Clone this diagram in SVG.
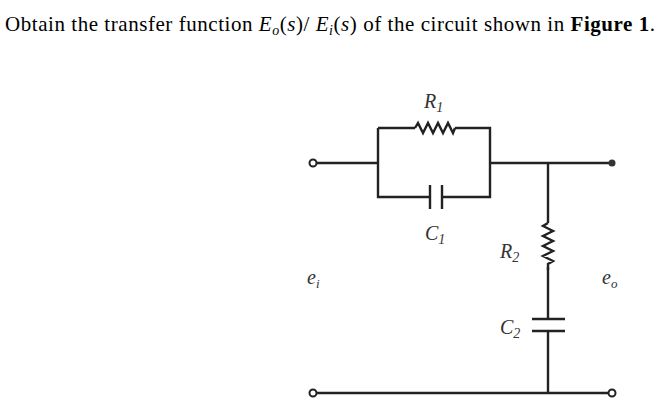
<svg xmlns="http://www.w3.org/2000/svg" width="668" height="409" viewBox="0 0 668 409">
<style>
.w{stroke:#222;stroke-width:2.4;fill:none}
.t{font-family:"Liberation Serif",serif;fill:#000}
.l{font-family:"Liberation Serif",serif;font-style:italic;fill:#333;font-size:20px}
</style>
<rect width="668" height="409" fill="#fff"/>
<text class="t" x="5" y="31" font-size="21" textLength="650" lengthAdjust="spacing">Obtain the transfer function <tspan font-style="italic">E</tspan><tspan font-style="italic" font-size="14" dy="4">o</tspan><tspan dy="-4">(</tspan><tspan font-style="italic">s</tspan>)/ <tspan font-style="italic">E</tspan><tspan font-style="italic" font-size="14" dy="4">i</tspan><tspan dy="-4">(</tspan><tspan font-style="italic">s</tspan>) of the circuit shown in <tspan font-weight="bold">Figure 1</tspan>.</text>
<g id="connectors">
<path class="w" d="M317,163 H378 M378,128 V197 H430 M442,197 H490 V128 H455 M415,128 H378 M490,163 H612 M548,163 V223 M548,267 V319 M548,331 V393"/>
<path class="w" stroke-width="3" d="M317,393 H608"/>
</g>
<g id="R1"><path class="w" d="M415,128 l3,-5 l5,10 l5,-10 l5,10 l5,-10 l5,10 l5,-10 l5,10 l2,-5"/><text class="l" x="424" y="108">R<tspan font-size="14" dy="4">1</tspan></text></g>
<g id="C1"><path class="w" d="M430,185 V209 M442,185 V209"/><text class="l" x="425" y="240">C<tspan font-size="14" dy="4">1</tspan></text></g>
<g id="R2"><path class="w" d="M548,223 l-5,3 l10,5 l-10,5 l10,5 l-10,5 l10,5 l-10,5 l10,5 l-5,3 v6"/><text class="l" x="500" y="258">R<tspan font-size="14" dy="4">2</tspan></text></g>
<g id="C2"><path class="w" d="M532,319 H565 M532,331 H565" stroke-width="3"/><text class="l" x="500" y="334">C<tspan font-size="14" dy="4">2</tspan></text></g>
<g id="terminals">
<circle cx="313" cy="163" r="3.5" fill="#fff" stroke="#222" stroke-width="2"/>
<circle cx="612" cy="163" r="3.5" fill="#333"/>
<circle cx="313" cy="393" r="3.5" fill="#fff" stroke="#222" stroke-width="2"/>
<circle cx="612" cy="393" r="3.5" fill="#fff" stroke="#222" stroke-width="2"/>
</g>
<g id="ei"><text class="l" x="307" y="284">e<tspan font-size="13" dy="4">i</tspan></text></g>
<g id="eo"><text class="l" x="602" y="284">e<tspan font-size="13" dy="4">o</tspan></text></g>
</svg>
